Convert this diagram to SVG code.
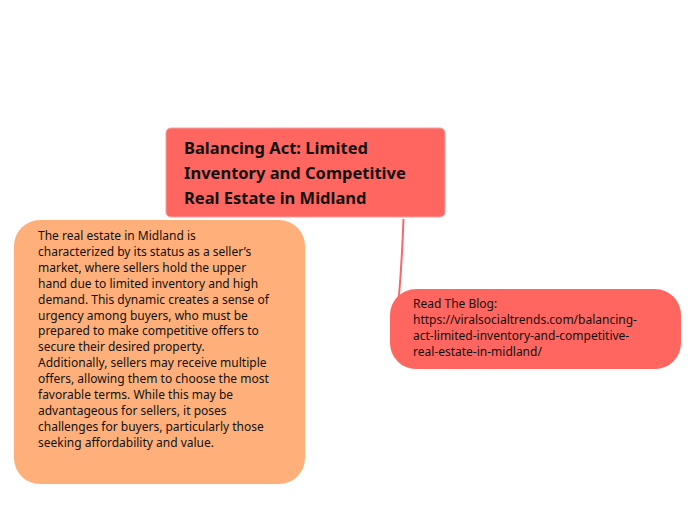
<svg xmlns="http://www.w3.org/2000/svg" width="696" height="520" viewBox="0 0 696 520">
<style>
.t{font-family:"Noto Sans","Open Sans",sans-serif;fill:#111}
.b{font-size:16.5px;font-weight:bold}
.s{font-size:12px}
</style>
<rect width="696" height="520" fill="#fff"/>
<g id="connectors"><path d="M403.5,219 Q402,260 399,296" stroke="#f76868" stroke-width="2" fill="none"/></g>
<g id="central"><rect x="166" y="128" width="279" height="89" rx="5" fill="#ff6660" stroke="#f3a0a0" stroke-width="1"/>
<text class="t b" x="184" y="154">Balancing Act: Limited</text>
<text class="t b" x="184" y="179">Inventory and Competitive</text>
<text class="t b" x="184" y="204">Real Estate in Midland</text></g>
<g id="left"><rect x="14" y="220" width="291" height="264" rx="26" fill="#ffb07a"/>
<text class="t s" x="38" y="240"><tspan x="38">The real estate in Midland is</tspan><tspan x="38" dy="15.9">characterized by its status as a seller’s</tspan><tspan x="38" dy="15.9">market, where sellers hold the upper</tspan><tspan x="38" dy="15.9">hand due to limited inventory and high</tspan><tspan x="38" dy="15.9">demand. This dynamic creates a sense of</tspan><tspan x="38" dy="15.9">urgency among buyers, who must be</tspan><tspan x="38" dy="15.9">prepared to make competitive offers to</tspan><tspan x="38" dy="15.9">secure their desired property.</tspan><tspan x="38" dy="15.9">Additionally, sellers may receive multiple</tspan><tspan x="38" dy="15.9">offers, allowing them to choose the most</tspan><tspan x="38" dy="15.9">favorable terms. While this may be</tspan><tspan x="38" dy="15.9">advantageous for sellers, it poses</tspan><tspan x="38" dy="15.9">challenges for buyers, particularly those</tspan><tspan x="38" dy="15.9">seeking affordability and value.</tspan></text></g>
<g id="right"><rect x="390" y="289" width="291" height="80" rx="26" fill="#ff6660"/>
<text class="t s" x="413" y="308"><tspan x="413">Read The Blog:</tspan><tspan x="413" dy="15.9">https://viralsocialtrends.com/balancing-</tspan><tspan x="413" dy="15.9">act-limited-inventory-and-competitive-</tspan><tspan x="413" dy="15.9">real-estate-in-midland/</tspan></text></g>
</svg>
